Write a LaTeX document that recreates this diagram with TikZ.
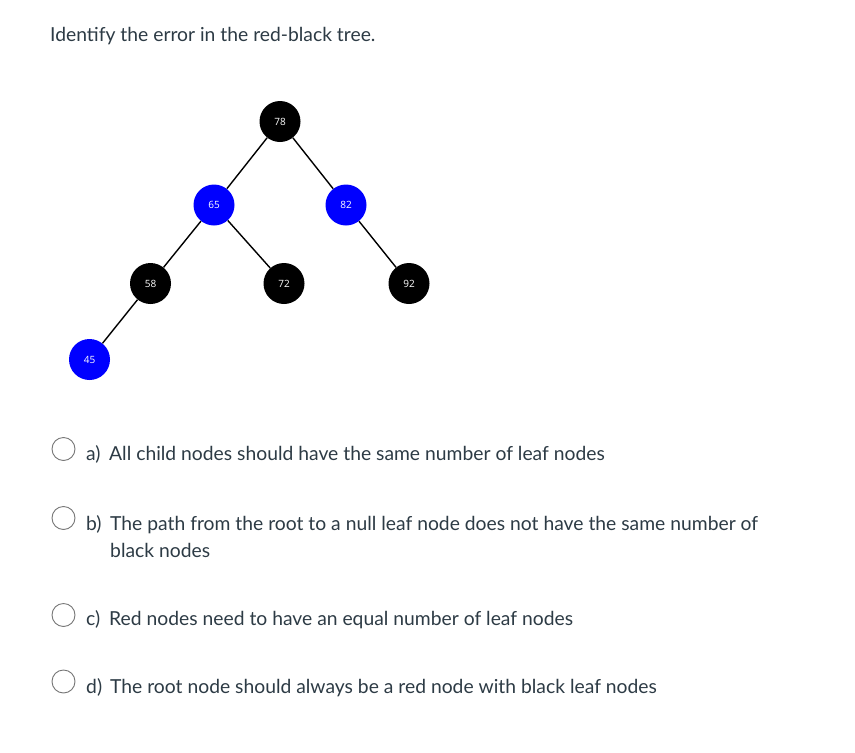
\documentclass[tikz,border=0pt]{standalone}
\usepackage{fontspec}
\setmainfont{Lato}
\newfontfamily\numfont{Open Sans}
\definecolor{txt}{HTML}{2D3B45}
\definecolor{rbblue}{HTML}{0000FF}
\definecolor{radiogray}{HTML}{777777}
\begin{document}
\begin{tikzpicture}[x=1pt,y=-1pt,
  rbnode/.style={circle,minimum size=41pt,inner sep=0pt,text=white,font=\numfont\fontsize{10}{10}\selectfont},
  blk/.style={rbnode,fill=black},
  blu/.style={rbnode,fill=rbblue},
  edge/.style={draw=black,line width=1.4pt},
  qtext/.style={anchor=base west,inner sep=0pt,text=txt,font=\fontsize{19.3}{27}\selectfont},
  radio/.style={circle,draw=radiogray,line width=0.9pt,minimum size=23pt,inner sep=0pt}]
\useasboundingbox (0,0) rectangle (855,753);
\fill[white] (0,0) rectangle (855,753);
\node[qtext] (title) at (50,41.5) {Identify the error in the red-black tree.};
% tree nodes
\node[blk] (n78) at (280,121.5) {78};
\node[blu] (n65) at (214,205) {65};
\node[blu] (n82) at (346,205) {82};
\node[blk] (n58) at (150.5,283.5) {58};
\node[blk] (n72) at (284,283.5) {72};
\node[blk] (n92) at (409,283.5) {92};
\node[blu] (n45) at (89.5,359.5) {45};
\draw[edge] (n78) -- (n65);
\draw[edge] (n78) -- (n82);
\draw[edge] (n65) -- (n58);
\draw[edge] (n65) -- (n72);
\draw[edge] (n82) -- (n92);
\draw[edge] (n58) -- (n45);
% options
\node[radio] (ra) at (63.5,449) {};
\node[qtext] (la) at (86,460.5) {a)};
\node[qtext] (ta) at (109,460.5) {All child nodes should have the same number of leaf nodes};
\node[radio] (rb) at (63.5,518) {};
\node[qtext] (lb) at (86,530.5) {b)};
\node[qtext] (tb) at (110,530.5) {The path from the root to a null leaf node does not have the same number of};
\node[qtext] (tb2) at (110,557.5) {black nodes};
\node[radio] (rc) at (63.5,615) {};
\node[qtext] (lc) at (86,625.5) {c)};
\node[qtext] (tc) at (109,625.5) {Red nodes need to have an equal number of leaf nodes};
\node[radio] (rd) at (63.5,681.5) {};
\node[qtext] (ld) at (86,693) {d)};
\node[qtext] (td) at (110,693) {The root node should always be a red node with black leaf nodes};
\end{tikzpicture}
\end{document}
